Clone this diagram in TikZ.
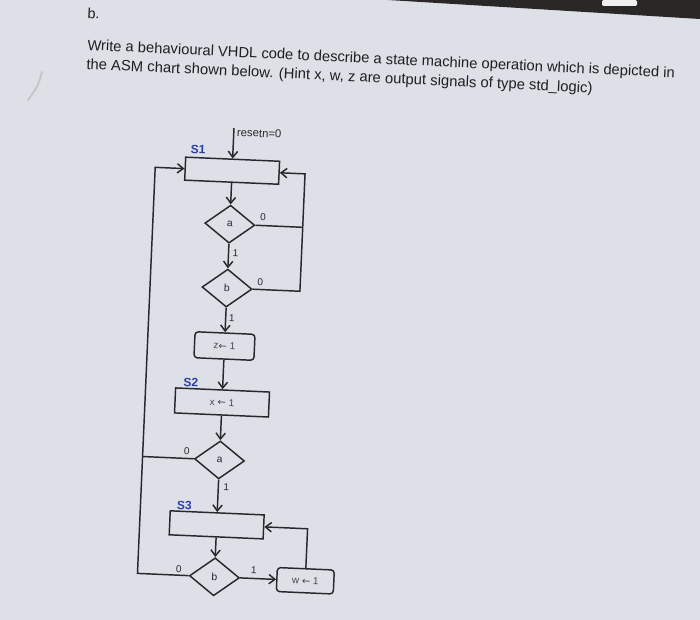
\documentclass[tikz,border=0pt]{standalone}
\usepackage{graphicx}
\usepackage{fontspec}
\setmainfont{Liberation Sans}
\newfontfamily\symf{DejaVu Sans}
\usetikzlibrary{arrows.meta,shapes.geometric}
\definecolor{bgc}{RGB}{222,224,231}
\definecolor{ink}{RGB}{40,40,44}
\definecolor{sblue}{RGB}{45,62,165}
\definecolor{band}{RGB}{42,40,38}
\begin{document}
\begin{tikzpicture}[x=0.75pt,y=-0.75pt,
  line/.style={draw=ink,line width=1.1pt},
  arr/.style={line,-{Straight Barb[length=4.5pt,width=7pt]}},
  sbox/.style={draw=ink,line width=1.1pt,minimum width=70.5pt,minimum height=18pt,inner sep=0pt,font=\fontsize{7.5}{9}\selectfont,text=ink!85},
  obox/.style={sbox,rounded corners=2.5pt},
  dec/.style={diamond,draw=ink,line width=1.1pt,minimum width=37.5pt,minimum height=28.5pt,inner sep=0pt,font=\fontsize{7.8}{9}\selectfont,text=ink},
  lab/.style={font=\fontsize{7.5}{9}\selectfont,text=ink,inner sep=0pt},
  sname/.style={font=\bfseries\fontsize{9}{10}\selectfont,text=sblue,inner sep=0pt},
  head/.style={anchor=base west,inner sep=0pt,text=black!88}]
\useasboundingbox (0,0) rectangle (700,620);
\fill[bgc] (0,0) rectangle (700,620);
\fill[band] (388,0) -- (700,0) -- (700,19) -- cycle;
\fill[white!88!gray,rounded corners=1pt] (602,0) rectangle (637,6);
\draw[gray!45,line width=1.5pt,line cap=round] (42,72) .. controls (38,86) .. (28,100);
% header text
\node[head,font=\fontsize{10.9}{12}\selectfont,rotate=-2.7] (hb) at (87,18) {b.};
\node[head,rotate=-2.7] (t1) at (87,50) {\resizebox{441pt}{!}{Write a behavioural VHDL code to describe a state machine operation which is depicted in}};
\node[head,rotate=-2.7] (t2) at (86,69) {\resizebox{380pt}{!}{the ASM chart shown below. (Hint x, w, z are output signals of type std\_logic)}};
% diagram
\begin{scope}[rotate around={-2.5:(223,380)},transform shape]
  \node[sbox,minimum height=17.25pt] (s1) at (223,170.5) {};
  \node[dec] (da) at (223,224) {a};
  \node[dec] (db) at (223,288) {b};
  \node[obox,minimum width=45pt,minimum height=19.5pt] (zb) at (223,346) {z{\symf ←} 1};
  \node[sbox,minimum height=18.75pt] (s2) at (223,402.5) {x {\symf ←} 1};
  \node[dec] (da2) at (223,460) {a};
  \node[sbox] (s3) at (223,525) {};
  \node[dec] (db2) at (223,577) {b};
  \node[obox,minimum width=42.75pt] (wb) at (314,577) {w {\symf ←} 1};
  \coordinate (rs) at (223,128);
  \coordinate (ra) at (296,224);
  \coordinate (rb) at (296,288);
  \coordinate (rt) at (296,170.5);
  \coordinate (la) at (146,460);
  \coordinate (lb) at (146,577);
  \coordinate (lt) at (146,170.5);
  \coordinate (wt) at (314,525);
  % state names and labels
  \node[lab,anchor=west,font=\fontsize{8.5}{10}\selectfont] (rlab) at (226,132) {resetn=0};
  \node[sname] (n1) at (188,151) {S1};
  \node[sname] (n2) at (191,384) {S2};
  \node[sname] (n3) at (190,507) {S3};
  \node[lab] (l1) at (256,216) {0};
  \node[lab] (l2) at (230,253) {1};
  \node[lab] (l3) at (256,281) {0};
  \node[lab] (l4) at (229,318) {1};
  \node[lab] (l5) at (190,453) {0};
  \node[lab] (l6) at (231,487) {1};
  \node[lab] (l7) at (187,571) {0};
  \node[lab] (l8) at (262,569) {1};
  % connectors
  \draw[arr] (rs) -- (s1.north);
  \draw[arr] (s1.south) -- (da.north);
  \draw[arr] (da.south) -- (db.north);
  \draw[arr] (db.south) -- (zb.north);
  \draw[arr] (zb.south) -- (s2.north);
  \draw[arr] (s2.south) -- (da2.north);
  \draw[arr] (da2.south) -- (s3.north);
  \draw[arr] (s3.south) -- (db2.north);
  \draw[arr] (db2.east) -- (wb.west);
  \draw[arr] (wb.north) -- (wt) -- (s3.east);
  \draw[line] (da.east) -- (ra);
  \draw[arr] (db.east) -- (rb) -- (rt) -- (s1.east);
  \draw[line] (da2.west) -- (la);
  \draw[arr] (db2.west) -- (lb) -- (lt) -- (s1.west);
\end{scope}
\end{tikzpicture}
\end{document}
